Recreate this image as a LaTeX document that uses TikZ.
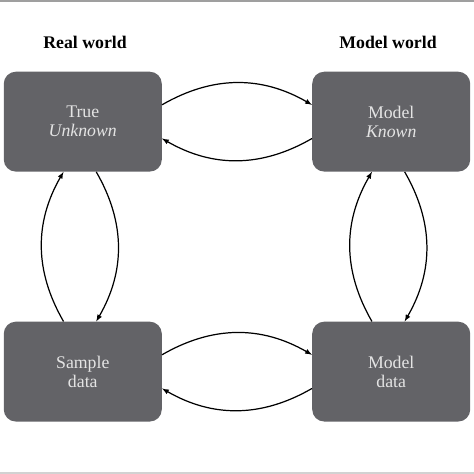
\documentclass[tikz,border=0pt]{standalone}
\usepackage{fontspec}
\setmainfont{Liberation Serif}
\usetikzlibrary{arrows}
\definecolor{boxgray}{HTML}{636367}
\definecolor{boxtext}{HTML}{E4E4E4}

\begin{document}
\begin{tikzpicture}[
    world/.style={rounded corners=0.38cm, fill=boxgray, text=boxtext, align=center,
      minimum width=5cm, minimum height=3.16cm, font=\fontsize{16}{17}\selectfont},
    head/.style={anchor=base, font=\fontsize{16}{19}\selectfont\bfseries},
    link/.style={-latex, line width=1.1pt, bend left=30}
  ]
     \useasboundingbox (0,0) rectangle (15,15);
     \fill[gray!75] (0,14.94) rectangle (15,15); %frame edges
     \fill[gray!35] (0,0) rectangle (15,0.07);
     \node[head] (realhead) at (2.69,13.48) {Real world};
     \node[head] (modelhead) at (12.28,13.48) {Model world};
     \node[world] (true) at (2.62,11.15) {True\\\textit{Unknown}};
     \node[world] (model) at (12.38,11.15) {Model\\\textit{Known}};
     \node[world] (sample) at (2.62,3.24) {Sample\\data};
     \node[world] (mdata) at (12.38,3.24) {Model\\data};
     \draw[link] (true.12) to (model.168);
     \draw[link] (model.192) to (true.348);
     \draw[link] (sample.12) to (mdata.168);
     \draw[link] (mdata.192) to (sample.348);
     \draw[link] (sample.111) to (true.249);
     \draw[link] (true.285) to (sample.75);
     \draw[link] (mdata.111) to (model.249);
     \draw[link] (model.285) to (mdata.75);
   \end{tikzpicture}
\end{document}
